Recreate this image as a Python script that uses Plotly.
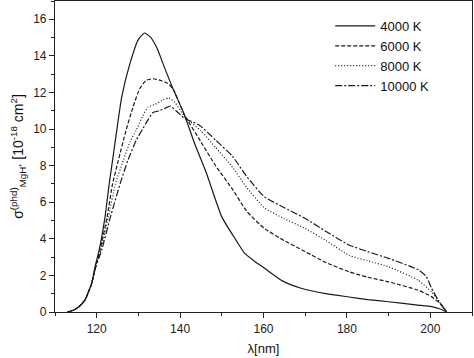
import plotly.graph_objects as go

lam_4000 = [113, 114.4, 115.8, 117.2, 118.8, 119.6, 120.6, 122, 123, 124, 126, 128, 130, 131.5, 133, 134.5, 136.2, 138.3, 141, 143.5, 146.3, 150, 153.4, 155.5, 158, 160.2, 164.5, 169, 175, 180.5, 185, 190, 197, 200.3, 202.2, 204]
sig_4000 = [0, 0.1, 0.3, 0.66, 1.57, 2.47, 3.39, 5.2, 7.0, 8.6, 11.76, 13.6, 14.9, 15.25, 15.0, 14.4, 13.4, 12.2, 10.8, 9.2, 7.6, 5.2, 3.93, 3.2, 2.75, 2.4, 1.7, 1.3, 1.0, 0.82, 0.68, 0.56, 0.38, 0.29, 0.18, 0]

lam_6000 = [113, 114.4, 115.8, 117.2, 118.8, 119.7, 120.8, 122.5, 123.8, 125.2, 127, 128.7, 130.3, 131.9, 133.5, 135.5, 137, 138.3, 141, 145, 148.5, 152.6, 156, 160.2, 165, 170, 175, 180.5, 185, 190, 197, 200.3, 202.2, 204]
sig_6000 = [0, 0.1, 0.3, 0.66, 1.57, 2.47, 3.39, 5.2, 7.0, 8.3, 9.9, 11.2, 12.2, 12.67, 12.75, 12.65, 12.5, 12.2, 10.8, 9.3, 8.0, 6.7, 5.5, 4.57, 3.9, 3.3, 2.7, 2.2, 1.9, 1.65, 1.2, 0.84, 0.5, 0]

lam_8000 = [113, 114.4, 115.8, 117.2, 118.8, 119.7, 121, 122.8, 124.5, 126.4, 128, 129.5, 131, 132.3, 134, 136, 137.3, 138.8, 141, 145, 148.5, 152.6, 156, 160.2, 165, 170, 175, 180.5, 185, 190, 197, 200.3, 202.2, 204]
sig_8000 = [0, 0.1, 0.3, 0.66, 1.57, 2.47, 3.39, 5.2, 7.0, 8.3, 9.3, 9.94, 10.7, 11.2, 11.35, 11.6, 11.7, 11.45, 10.7, 9.9, 9.0, 7.9, 6.8, 5.7, 5.1, 4.57, 3.9, 3.1, 2.8, 2.47, 1.75, 1.1, 0.55, 0]

lam_10000 = [113, 114.4, 115.8, 117.2, 118.8, 119.8, 121.2, 123.3, 125.6, 127.5, 129.5, 131, 132.3, 133.5, 135, 136.5, 137.7, 139, 141, 144.7, 148.5, 152.6, 156, 160.2, 165, 170.1, 175, 180.5, 185, 190, 197.2, 199, 200.3, 201.9, 203.8]
sig_10000 = [0, 0.1, 0.3, 0.66, 1.57, 2.47, 3.39, 5.2, 7.0, 8.3, 9.4, 10.0, 10.5, 10.9, 11.0, 11.15, 11.25, 11.0, 10.6, 10.2, 9.4, 8.5, 7.4, 6.3, 5.7, 5.1, 4.4, 3.66, 3.3, 2.93, 2.3, 1.95, 1.3, 0.65, 0]

series = [
    ("4000 K", lam_4000, sig_4000, "solid"),
    ("6000 K", lam_6000, sig_6000, "4px,2px"),
    ("8000 K", lam_8000, sig_8000, "1px,2px"),
    ("10000 K", lam_10000, sig_10000, "7px,2px,2px,2px"),
]

fig = go.Figure()
for name, x, y, dash in series:
    fig.add_trace(go.Scatter(
        x=x, y=y, name=name, mode="lines",
        line=dict(color="#1a1a1a", width=1.2, dash=dash, shape="spline", smoothing=0.5),
    ))

axis_common = dict(
    showgrid=False, zeroline=False, showline=True, linecolor="#222", linewidth=1.2,
    mirror=True, ticks="outside", ticklen=5, tickwidth=1.2, tickcolor="#222",
    automargin=False,
    tickfont=dict(family="Liberation Sans, Arial", size=12, color="#222"),
)

fig.update_layout(
    width=474, height=358,
    margin=dict(l=55, r=2, t=1, b=46),
    paper_bgcolor="white", plot_bgcolor="white",
    showlegend=True,
    legend=dict(x=0.66, y=0.968, xanchor="left", yanchor="top",
                font=dict(family="Liberation Sans, Arial", size=13, color="#111"),
                bgcolor="rgba(0,0,0,0)", tracegroupgap=0, itemwidth=40),
    xaxis=dict(range=[110, 210], tickvals=[120, 140, 160, 180, 200],
               minor=dict(ticks="outside", ticklen=3, tickwidth=1.2, tickcolor="#222", dtick=10, tick0=110),
               title=dict(text="λ[nm]", font=dict(family="Liberation Sans, Arial", size=13, color="#111"), standoff=9),
               **axis_common),
    yaxis=dict(range=[0, 17], tickvals=[0, 2, 4, 6, 8, 10, 12, 14, 16],
               minor=dict(ticks="outside", ticklen=3, tickwidth=1.2, tickcolor="#222", dtick=1),
               title=dict(text="σ<sup>(phd)</sup><sub>MgH⁺</sub> [10<sup>-18</sup> cm<sup>2</sup>]",
                          font=dict(family="Liberation Sans, Arial", size=14, color="#111"), standoff=6),
               **axis_common),
)

fig.write_html("out.html", config={"displayModeBar": False},
               post_script="document.body.style.margin='0';")
